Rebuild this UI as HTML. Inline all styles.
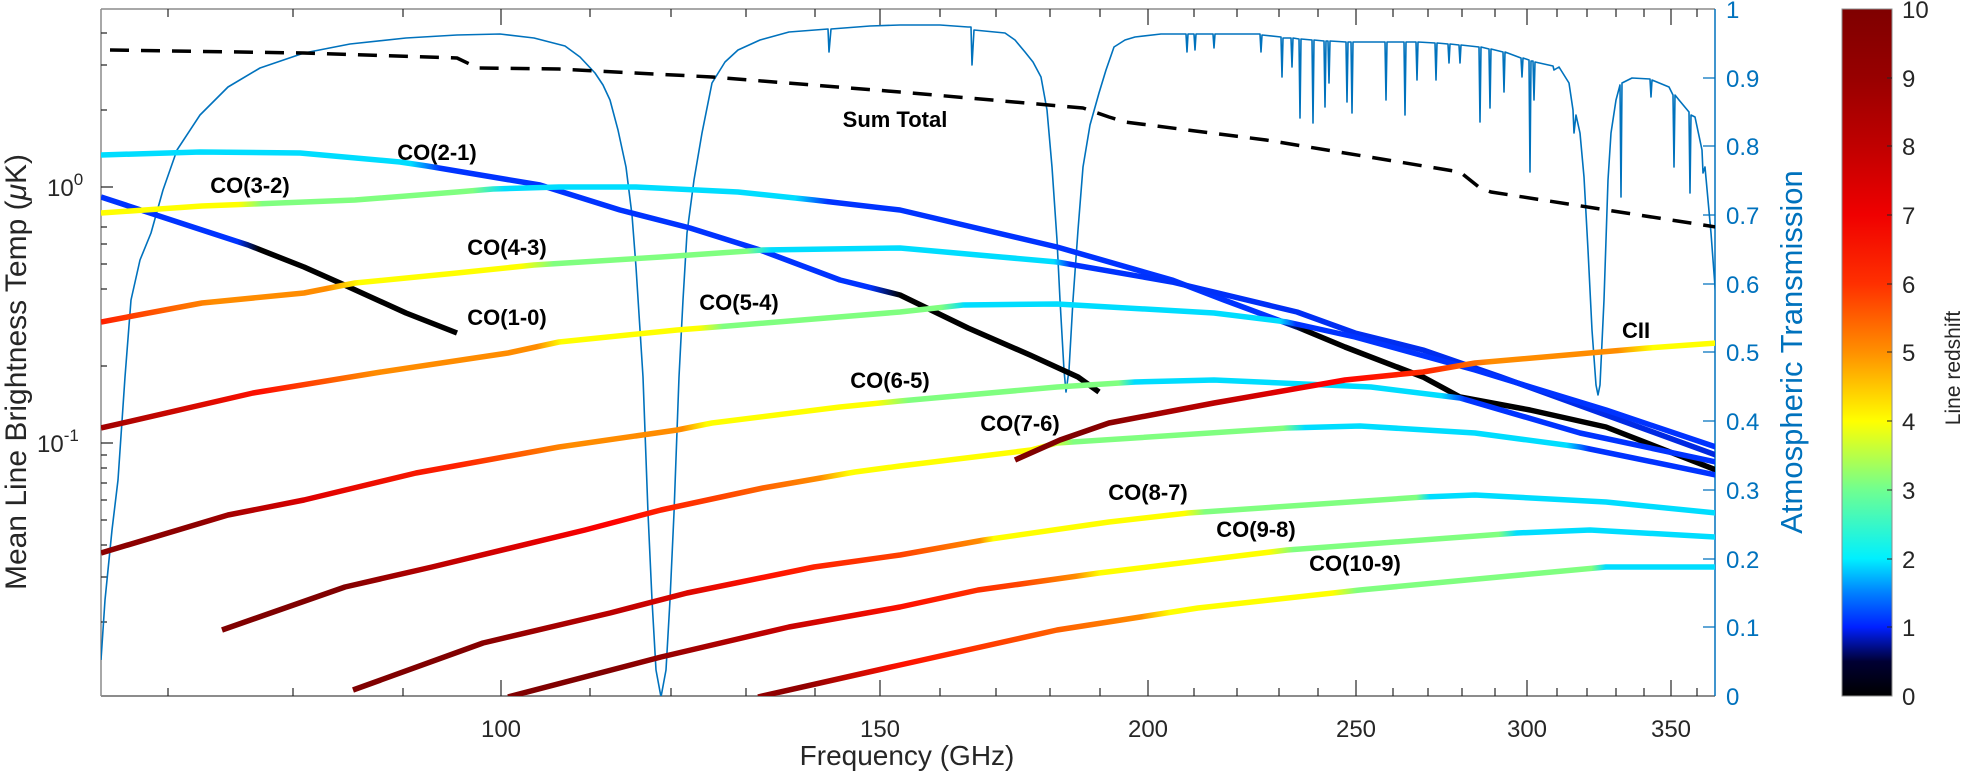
<!DOCTYPE html>
<html><head><meta charset="utf-8"><style>
html,body{margin:0;padding:0;background:#fff;}
svg{display:block;}
text{font-family:"Liberation Sans",Arial,sans-serif;}
.lab{font-weight:bold;font-size:22px;fill:#000;}
.tk{font-size:24px;fill:#262626;}
.bt{font-size:24px;fill:#0072BD;}
</style></head><body>
<svg width="1961" height="777" viewBox="0 0 1961 777" xmlns="http://www.w3.org/2000/svg">
<defs>
<linearGradient id="cb" x1="0" y1="1" x2="0" y2="0">
<stop offset="0" stop-color="#000"/><stop offset="0.05" stop-color="#000033"/><stop offset="0.1" stop-color="#0020ff"/><stop offset="0.15" stop-color="#0080ff"/><stop offset="0.2" stop-color="#00f0ff"/><stop offset="0.3" stop-color="#70ff90"/><stop offset="0.4" stop-color="#ffff00"/><stop offset="0.5" stop-color="#ff9000"/><stop offset="0.6" stop-color="#ff3000"/><stop offset="0.7" stop-color="#f00000"/><stop offset="0.8" stop-color="#c00000"/><stop offset="0.9" stop-color="#980000"/><stop offset="1" stop-color="#7f0000"/>
</linearGradient>
<linearGradient id="g10" gradientUnits="userSpaceOnUse" x1="101" x2="460" y1="0" y2="0"><stop offset="0.38" stop-color="#0033ff"/><stop offset="0.44" stop-color="#000"/></linearGradient>
<linearGradient id="g21" gradientUnits="userSpaceOnUse" x1="101" x2="1100" y1="0" y2="0"><stop offset="0.31" stop-color="#00ddff"/><stop offset="0.34" stop-color="#0033ff"/><stop offset="0.77" stop-color="#0033ff"/><stop offset="0.8" stop-color="#000"/></linearGradient>
<linearGradient id="g32" gradientUnits="userSpaceOnUse" x1="101" x2="1716" y1="0" y2="0"><stop offset="0.085" stop-color="#ffff00"/><stop offset="0.1" stop-color="#80ff80"/><stop offset="0.23" stop-color="#80ff80"/><stop offset="0.25" stop-color="#00ddff"/><stop offset="0.43" stop-color="#00ddff"/><stop offset="0.45" stop-color="#0033ff"/><stop offset="0.73" stop-color="#0033ff"/><stop offset="0.745" stop-color="#000"/></linearGradient>
<linearGradient id="g43" gradientUnits="userSpaceOnUse" x1="101" x2="1716" y1="0" y2="0"><stop offset="0" stop-color="#ff2000"/><stop offset="0.07" stop-color="#ff8c00"/><stop offset="0.14" stop-color="#ff8c00"/><stop offset="0.16" stop-color="#ffff00"/><stop offset="0.26" stop-color="#ffff00"/><stop offset="0.28" stop-color="#80ff80"/><stop offset="0.4" stop-color="#80ff80"/><stop offset="0.415" stop-color="#00ddff"/><stop offset="0.59" stop-color="#00ddff"/><stop offset="0.6" stop-color="#0033ff"/><stop offset="1" stop-color="#0028e0"/></linearGradient>
<linearGradient id="g54" gradientUnits="userSpaceOnUse" x1="101" x2="1716" y1="0" y2="0"><stop offset="0" stop-color="#a00000"/><stop offset="0.1" stop-color="#ff1000"/><stop offset="0.17" stop-color="#ff8c00"/><stop offset="0.27" stop-color="#ff8c00"/><stop offset="0.285" stop-color="#ffff00"/><stop offset="0.37" stop-color="#ffff00"/><stop offset="0.385" stop-color="#80ff80"/><stop offset="0.52" stop-color="#80ff80"/><stop offset="0.535" stop-color="#00ddff"/><stop offset="0.73" stop-color="#00ddff"/><stop offset="0.74" stop-color="#0033ff"/></linearGradient>
<linearGradient id="g65" gradientUnits="userSpaceOnUse" x1="101" x2="1716" y1="0" y2="0"><stop offset="0.06" stop-color="#8c0000"/><stop offset="0.13" stop-color="#e00000"/><stop offset="0.22" stop-color="#ff2000"/><stop offset="0.29" stop-color="#ff8c00"/><stop offset="0.36" stop-color="#ff8c00"/><stop offset="0.375" stop-color="#ffff00"/><stop offset="0.48" stop-color="#ffff00"/><stop offset="0.5" stop-color="#80ff80"/><stop offset="0.63" stop-color="#80ff80"/><stop offset="0.64" stop-color="#00ddff"/><stop offset="0.83" stop-color="#00ddff"/><stop offset="0.845" stop-color="#0033ff"/></linearGradient>
<linearGradient id="g76" gradientUnits="userSpaceOnUse" x1="222" x2="1716" y1="0" y2="0"><stop offset="0.08" stop-color="#800000"/><stop offset="0.15" stop-color="#c00000"/><stop offset="0.26" stop-color="#ff0000"/><stop offset="0.33" stop-color="#ff4000"/><stop offset="0.4" stop-color="#ff8c00"/><stop offset="0.42" stop-color="#ffff00"/><stop offset="0.55" stop-color="#ffff00"/><stop offset="0.57" stop-color="#80ff80"/><stop offset="0.71" stop-color="#80ff80"/><stop offset="0.725" stop-color="#00ddff"/><stop offset="0.9" stop-color="#00ddff"/><stop offset="0.915" stop-color="#0033ff"/></linearGradient>
<linearGradient id="g87" gradientUnits="userSpaceOnUse" x1="353" x2="1716" y1="0" y2="0"><stop offset="0.08" stop-color="#800000"/><stop offset="0.2" stop-color="#c00000"/><stop offset="0.3" stop-color="#ff1000"/><stop offset="0.4" stop-color="#ff4000"/><stop offset="0.46" stop-color="#ff8c00"/><stop offset="0.47" stop-color="#ffff00"/><stop offset="0.61" stop-color="#ffff00"/><stop offset="0.625" stop-color="#80ff80"/><stop offset="0.78" stop-color="#80ff80"/><stop offset="0.79" stop-color="#00ddff"/></linearGradient>
<linearGradient id="g98" gradientUnits="userSpaceOnUse" x1="508" x2="1716" y1="0" y2="0"><stop offset="0.08" stop-color="#800000"/><stop offset="0.22" stop-color="#c00000"/><stop offset="0.33" stop-color="#ff1000"/><stop offset="0.42" stop-color="#ff4000"/><stop offset="0.47" stop-color="#ff8c00"/><stop offset="0.49" stop-color="#ffff00"/><stop offset="0.63" stop-color="#ffff00"/><stop offset="0.65" stop-color="#80ff80"/><stop offset="0.82" stop-color="#80ff80"/><stop offset="0.835" stop-color="#00ddff"/></linearGradient>
<linearGradient id="g109" gradientUnits="userSpaceOnUse" x1="758" x2="1716" y1="0" y2="0"><stop offset="0.05" stop-color="#900000"/><stop offset="0.15" stop-color="#ff1000"/><stop offset="0.25" stop-color="#ff4000"/><stop offset="0.4" stop-color="#ff8c00"/><stop offset="0.43" stop-color="#ffff00"/><stop offset="0.6" stop-color="#ffff00"/><stop offset="0.625" stop-color="#80ff80"/><stop offset="0.87" stop-color="#80ff80"/><stop offset="0.885" stop-color="#00ddff"/></linearGradient>
<linearGradient id="gc2" gradientUnits="userSpaceOnUse" x1="1015" x2="1716" y1="0" y2="0"><stop offset="0.1" stop-color="#800000"/><stop offset="0.3" stop-color="#c00000"/><stop offset="0.45" stop-color="#ff0000"/><stop offset="0.6" stop-color="#ff3000"/><stop offset="0.68" stop-color="#ff8c00"/><stop offset="0.86" stop-color="#ff8c00"/><stop offset="0.91" stop-color="#ffff00"/></linearGradient>
<clipPath id="pc"><rect x="101" y="9" width="1614" height="687"/></clipPath>
</defs>

<!-- frame -->
<line x1="101" y1="9" x2="1715" y2="9" stroke="#8c8c8c" stroke-width="1.5"/>
<line x1="101" y1="9" x2="101" y2="696" stroke="#8c8c8c" stroke-width="1.5"/>
<line x1="101" y1="696" x2="1715" y2="696" stroke="#8c8c8c" stroke-width="2"/>
<line x1="1715" y1="9" x2="1715" y2="696" stroke="#0072BD" stroke-width="1.5"/>

<!-- x ticks -->
<g stroke="#262626" stroke-width="1.2">
<path d="M168,696v-8M293,696v-8M403,696v-8M501,696v-16M590,696v-8M671,696v-8M746,696v-8M815,696v-8M880,696v-16M940,696v-8M996,696v-8M1050,696v-8M1100,696v-8M1148,696v-16M1194,696v-8M1237,696v-8M1279,696v-8M1318,696v-8M1356,696v-16M1393,696v-8M1428,696v-8M1462,696v-8M1495,696v-8M1527,696v-16M1557,696v-8M1587,696v-8M1616,696v-8M1644,696v-8M1671,696v-16M1697,696v-8"/>
<path d="M168,9v8M293,9v8M403,9v8M501,9v16M590,9v8M671,9v8M746,9v8M815,9v8M880,9v16M940,9v8M996,9v8M1050,9v8M1100,9v8M1148,9v16M1194,9v8M1237,9v8M1279,9v8M1318,9v8M1356,9v16M1393,9v8M1428,9v8M1462,9v8M1495,9v8M1527,9v16M1557,9v8M1587,9v8M1616,9v8M1644,9v8M1671,9v16M1697,9v8"/>
<path d="M101,622h6M101,577h6M101,545h6M101,520h6M101,500h6M101,483h6M101,468h6M101,455h6M101,443h12M101,366h6M101,321h6M101,289h6M101,264h6M101,244h6M101,227h6M101,212h6M101,199h6M101,187h12M101,110h6M101,65h6M101,33h6"/>
</g>
<g stroke="#0072BD" stroke-width="1.2"><path d="M1715,627h-12M1715,559h-12M1715,490h-12M1715,421h-12M1715,352h-12M1715,284h-12M1715,215h-12M1715,146h-12M1715,78h-12"/></g>

<!-- tick labels -->
<g class="tk" text-anchor="middle">
<text x="501" y="737">100</text><text x="880" y="737">150</text><text x="1148" y="737">200</text><text x="1356" y="737">250</text><text x="1527" y="737">300</text><text x="1671" y="737">350</text>
</g>
<text class="tk" x="47" y="196">10<tspan dy="-11" font-size="17">0</tspan></text>
<text class="tk" x="37" y="452">10<tspan dy="-11" font-size="17">-1</tspan></text>
<g class="bt">
<text x="1726" y="18">1</text><text x="1726" y="87">0.9</text><text x="1726" y="155">0.8</text><text x="1726" y="224">0.7</text><text x="1726" y="293">0.6</text><text x="1726" y="361">0.5</text><text x="1726" y="430">0.4</text><text x="1726" y="499">0.3</text><text x="1726" y="568">0.2</text><text x="1726" y="636">0.1</text><text x="1726" y="705">0</text>
</g>

<!-- axis titles -->
<text x="907" y="765" text-anchor="middle" font-size="28" fill="#262626">Frequency (GHz)</text>
<text transform="translate(26,372) rotate(-90)" text-anchor="middle" font-size="30" fill="#262626">Mean Line Brightness Temp (<tspan font-style="italic">μ</tspan>K)</text>
<text transform="translate(1802,352) rotate(-90)" text-anchor="middle" font-size="31" fill="#0072BD">Atmospheric Transmission</text>

<!-- colorbar -->
<rect x="1842" y="9" width="50" height="687" fill="url(#cb)" stroke="#8c8c8c" stroke-width="1"/>
<g stroke="#262626" stroke-width="1"><path d="M1892,627h-5M1892,559h-5M1892,490h-5M1892,421h-5M1892,352h-5M1892,284h-5M1892,215h-5M1892,146h-5M1892,78h-5"/></g>
<g class="tk">
<text x="1902" y="705">0</text><text x="1902" y="636">1</text><text x="1902" y="568">2</text><text x="1902" y="499">3</text><text x="1902" y="430">4</text><text x="1902" y="361">5</text><text x="1902" y="293">6</text><text x="1902" y="224">7</text><text x="1902" y="155">8</text><text x="1902" y="87">9</text><text x="1902" y="18">10</text>
</g>
<text transform="translate(1960,368) rotate(-90)" text-anchor="middle" font-size="21" fill="#262626">Line redshift</text>

<g clip-path="url(#pc)" fill="none" stroke-linejoin="round" stroke-linecap="butt">
<!-- atmosphere -->
<path stroke="#0072BD" stroke-width="1.6" d="M101,660 L105,600 L112,530 L118,480 L125,377 L131,300 L140,260 L151,233 L163,190 L177,150 L200,115 L228,87 L260,68 L304,53 L350,44 L406,38 L457,35 L500,34 L534,38 L565,46 L580,57 L595,73 L603,85 L610,100 L618,130 L626,167 L632,215 L636,267 L643,377 L648,513 L652,600 L656,670 L661,697 L666,670 L670,600 L674,513 L679,377 L683,300 L687,233 L694,180 L702,133 L712,83 L725,62 L738,50 L760,40 L789,32 L828,29 L829,52 L831,29 L870,26 L900,25 L940,25 L968,27 L971,27 L972,65 L974,30 L1005,33 L1015,40 L1025,52 L1033,62 L1041,77 L1047,110 L1052,167 L1057,240 L1060,300 L1064,370 L1066,392 L1069,370 L1073,300 L1078,230 L1083,167 L1090,125 L1099,93 L1106,70 L1114,47 L1125,40 L1135,37 L1161,34 L1186,34 L1187,52 L1188,34 L1194,34 L1195,50 L1196,34 L1213,34 L1214,48 L1215,34 L1260,34 L1261,52 L1262,35 L1281,37 L1282,77 L1283,38 L1291,38 L1292,67 L1293,38 L1299,39 L1300,118 L1301,39 L1312,40 L1313,123 L1314,40 L1324,41 L1325,107 L1326,41 L1328,41 L1329,83 L1330,41 L1346,42 L1347,102 L1348,42 L1351,42 L1352,113 L1353,42 L1385,42 L1386,100 L1387,42 L1404,42 L1405,115 L1406,42 L1416,42 L1417,80 L1418,42 L1435,43 L1436,80 L1437,43 L1448,44 L1449,63 L1450,44 L1459,45 L1460,63 L1461,45 L1479,47 L1480,122 L1481,47 L1489,49 L1490,108 L1491,49 L1503,52 L1504,92 L1505,52 L1521,58 L1522,77 L1523,58 L1529,60 L1530,172 L1531,61 L1533,61 L1534,100 L1535,62 L1553,66 L1554,70 L1559,67 L1569,83 L1573,110 L1574,133 L1576,115 L1580,133 L1584,177 L1588,250 L1592,330 L1596,385 L1598,395 L1600,385 L1604,300 L1608,180 L1611,133 L1616,100 L1620,85 L1621,197 L1622,83 L1632,78 L1650,79 L1651,97 L1652,80 L1669,87 L1673,95 L1674,167 L1675,95 L1679,100 L1689,112 L1690,193 L1691,115 L1695,117 L1702,150 L1703,173 L1705,167 L1708,200 L1711,233 L1716,300"/>

<!-- sum total -->
<path stroke="#000" stroke-width="3.5" stroke-dasharray="19 12" d="M110,50 L304,53 L457,58 L478,68 L559,69 L712,77 L900,92 L1083,108 L1109,117 L1125,122 L1266,140 L1460,172 L1480,188 L1491,192 L1716,227"/>

<g stroke-width="5.5">
<path stroke="url(#g10)" d="M101,197 L202,230 L248,245 L304,267 L340,283 L406,313 L457,333"/>
<path stroke="url(#g21)" d="M101,155 L200,152 L300,153 L400,162 L427,166 L540,185 L620,210 L690,228 L760,250 L840,280 L900,295 L968,328 L1030,355 L1078,377 L1099,392"/>
<path stroke="url(#g32)" d="M101,213 L202,206 L253,204 L355,200 L457,192 L493,189 L559,187 L636,187 L738,192 L814,200 L900,210 L1057,247 L1172,280 L1224,300 L1297,327 L1345,347 L1423,377 L1460,397 L1530,410 L1606,427 L1716,470"/>
<path stroke="url(#g43)" d="M101,322 L202,303 L304,293 L355,283 L457,273 L534,265 L661,257 L763,250 L900,248 L1057,262 L1172,282 L1297,312 L1355,333 L1423,350 L1501,377 L1606,415 L1716,455"/>
<path stroke="url(#g54)" d="M101,428 L253,393 L381,372 L508,353 L559,342 L677,330 L728,326 L900,312 L963,305 L1057,304 L1214,313 L1287,322 L1355,337 L1475,370 L1606,410 L1716,447"/>
<path stroke="url(#g65)" d="M101,553 L228,515 L304,500 L416,473 L559,447 L677,430 L712,423 L840,407 L900,401 L1057,387 L1135,382 L1214,380 L1371,387 L1460,398 L1580,433 L1716,462"/>
<path stroke="url(#g76)" d="M222,630 L345,587 L432,567 L585,530 L661,510 L763,488 L855,472 L900,466 L1031,450 L1057,443 L1287,428 L1360,426 L1475,433 L1580,447 L1716,475"/>
<path stroke="url(#g87)" d="M353,690 L483,643 L610,613 L687,593 L814,567 L900,555 L984,540 L1109,522 L1188,513 L1423,497 L1475,495 L1606,502 L1716,513"/>
<path stroke="url(#g98)" d="M508,697 L661,657 L789,627 L900,607 L978,590 L1099,573 L1287,550 L1517,533 L1590,530 L1716,537"/>
<path stroke="url(#g109)" d="M758,697 L900,665 L1057,630 L1198,608 L1360,590 L1606,567 L1716,567"/>
<path stroke="url(#gc2)" d="M1015,460 L1060,440 L1109,423 L1214,403 L1345,380 L1423,372 L1475,363 L1601,352 L1648,348 L1716,343"/>
</g>
</g>

<!-- labels -->
<g class="lab" text-anchor="middle">
<text x="437" y="160">CO(2-1)</text>
<text x="250" y="193">CO(3-2)</text>
<text x="507" y="255">CO(4-3)</text>
<text x="507" y="325">CO(1-0)</text>
<text x="739" y="310">CO(5-4)</text>
<text x="895" y="127">Sum Total</text>
<text x="890" y="388">CO(6-5)</text>
<text x="1020" y="431">CO(7-6)</text>
<text x="1148" y="500">CO(8-7)</text>
<text x="1256" y="537">CO(9-8)</text>
<text x="1355" y="571">CO(10-9)</text>
<text x="1636" y="338">CII</text>
</g>
</svg>
</body></html>
